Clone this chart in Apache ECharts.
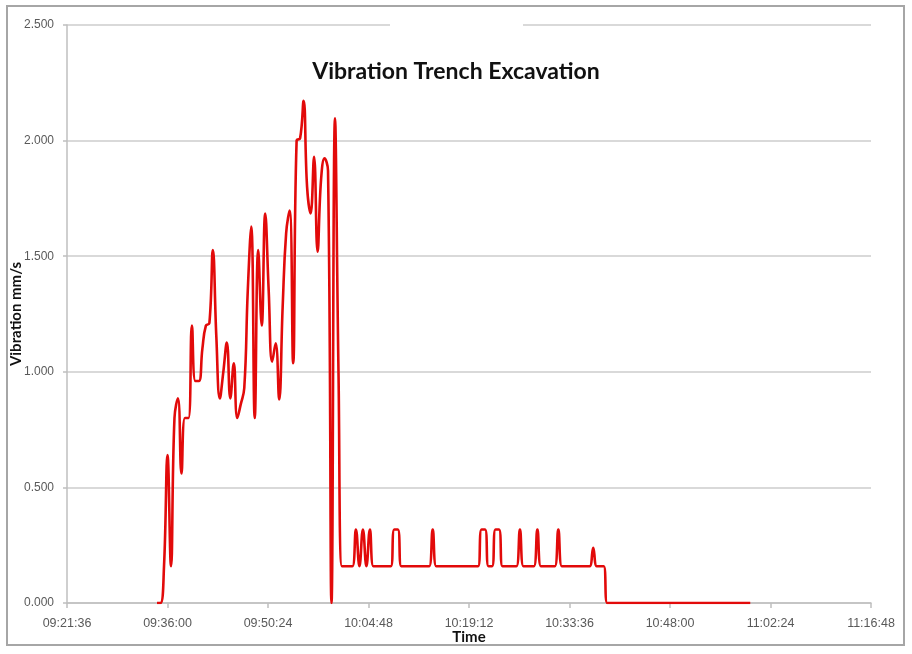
<!DOCTYPE html>
<html>
<head>
    <meta charset="utf-8">
    <title>Vibration Trench Excavation</title>
    <script src="https://cdn.jsdelivr.net/npm/echarts@6/dist/echarts.min.js"></script>
    <style>
        html, body { margin: 0; padding: 0; background: #fff; }
        #main { width: 912px; height: 654px; }
    </style>
</head>
<body>
<div id="main"></div>
<script>
    // x axis ticks, seconds since midnight (09:21:36 .. 11:16:48, step 14:24)
    var xMin = 33696;
    var xMax = 40608;
    var xStep = 864;
    var yTicks = [0, 0.5, 1, 1.5, 2, 2.5];

    // logger samples every 30 s, first sample 09:34:30
    var sampleStart = 34470;
    var sampleStep = 30;

    // vibration mm/s, one per sample
    var vibration = [
        0, 0, 0.159, 0.640, 0.159, 0.800, 0.885, 0.560, 0.800, 0.800,
        1.200, 0.960, 0.960, 1.100, 1.200, 1.210, 1.527, 1.150, 0.885, 1.000,
        1.126, 0.885, 1.037, 0.800, 0.860, 0.930, 1.350, 1.628, 0.800, 1.527,
        1.200, 1.685, 1.350, 1.044, 1.123, 0.880, 1.280, 1.600, 1.697, 1.037,
        2.000, 2.010, 2.172, 1.800, 1.685, 1.930, 1.520, 1.830, 1.923, 1.870,
        0, 2.096, 1.000, 0.159, 0.159, 0.159, 0.159, 0.318, 0.159, 0.318,
        0.159, 0.318, 0.159, 0.159, 0.159, 0.159, 0.159, 0.159, 0.318, 0.318,
        0.159, 0.159, 0.159, 0.159, 0.159, 0.159, 0.159, 0.159, 0.159, 0.318,
        0.159, 0.159, 0.159, 0.159, 0.159, 0.159, 0.159, 0.159, 0.159, 0.159,
        0.159, 0.159, 0.159, 0.318, 0.318, 0.159, 0.159, 0.318, 0.318, 0.159,
        0.159, 0.159, 0.159, 0.159, 0.318, 0.159, 0.159, 0.159, 0.159, 0.318,
        0.159, 0.159, 0.159, 0.159, 0.159, 0.318, 0.159, 0.159, 0.159, 0.159,
        0.159, 0.159, 0.159, 0.159, 0.159, 0.239, 0.159, 0.159, 0.159, 0,
        0, 0, 0, 0, 0, 0, 0, 0, 0, 0,
        0, 0, 0, 0, 0, 0, 0, 0, 0, 0,
        0, 0, 0, 0, 0, 0, 0, 0, 0, 0,
        0, 0, 0, 0, 0, 0, 0, 0, 0, 0,
        0
    ];

    function hms(s) {
        var h = Math.floor(s / 3600);
        var m = Math.floor((s % 3600) / 60);
        var sec = s % 60;
        function p(n) { return (n < 10 ? '0' : '') + n; }
        return p(h) + ':' + p(m) + ':' + p(sec);
    }

    var points = [];
    for (var i = 0; i < vibration.length; i++) {
        points.push([sampleStart + i * sampleStep, vibration[i]]);
    }

    var labelFont = 'Liberation Sans';
    var boldFont = 'Lato';

    var myChart = echarts.init(document.getElementById('main'));
    var option = {
        animation: false,
        backgroundColor: '#fff',
        title: {
            text: 'Vibration Trench Excavation',
            left: 451,
            top: 55,
            textAlign: 'center',
            textStyle: { fontFamily: boldFont, fontWeight: 'bold', fontSize: 23, color: '#111' }
        },
        grid: { left: 67, right: 41, top: 25, bottom: 51, outerBoundsMode: 'none', containLabel: false },
        xAxis: {
            type: 'value',
            min: xMin,
            max: xMax,
            interval: xStep,
            name: 'Time',
            nameLocation: 'middle',
            nameGap: 27,
            nameMoveOverlap: false,
            nameTextStyle: { fontFamily: boldFont, fontWeight: 'bold', fontSize: 15, color: '#111' },
            axisLine: { lineStyle: { color: '#bfbfbf', width: 1.5 } },
            axisTick: { show: true, length: 5, lineStyle: { color: '#bfbfbf', width: 1.5 } },
            axisLabel: {
                margin: 14,
                fontFamily: labelFont,
                fontSize: 12.5,
                color: '#595959',
                formatter: function (v) { return hms(v); }
            },
            splitLine: { show: false }
        },
        yAxis: {
            type: 'value',
            min: yTicks[0],
            max: yTicks[yTicks.length - 1],
            interval: 0.5,
            name: 'Vibration mm/s',
            nameLocation: 'middle',
            nameGap: 43,
            nameMoveOverlap: false,
            nameTextStyle: { fontFamily: boldFont, fontWeight: 'bold', fontSize: 15, color: '#111' },
            axisLine: { show: true, lineStyle: { color: '#bfbfbf', width: 1.5 } },
            axisTick: { show: true, length: 4, lineStyle: { color: '#bfbfbf', width: 1.5 } },
            axisLabel: {
                margin: 13,
                fontFamily: labelFont,
                fontSize: 12,
                color: '#595959',
                formatter: function (v) { return v.toFixed(3); }
            },
            splitLine: { lineStyle: { color: '#d9d9d9', width: 2 } }
        },
        series: [
            {
                name: 'Vibration',
                type: 'line',
                data: points,
                smooth: 0.45,
                symbol: 'none',
                lineStyle: { color: '#e20a0a', width: 2.6 },
                itemStyle: { color: '#e20a0a' }
            }
        ],
        graphic: [
            // chart frame
            {
                type: 'rect',
                z: 100,
                shape: { x: 7, y: 6, width: 897, height: 639 },
                style: { fill: null, stroke: '#a6a6a6', lineWidth: 2 }
            },
            // gap in the top gridline, as in the source image
            {
                type: 'rect',
                z: 100,
                shape: { x: 390, y: 21, width: 133, height: 8 },
                style: { fill: '#fff' }
            }
        ]
    };
    myChart.setOption(option);
</script>
</body>
</html>
